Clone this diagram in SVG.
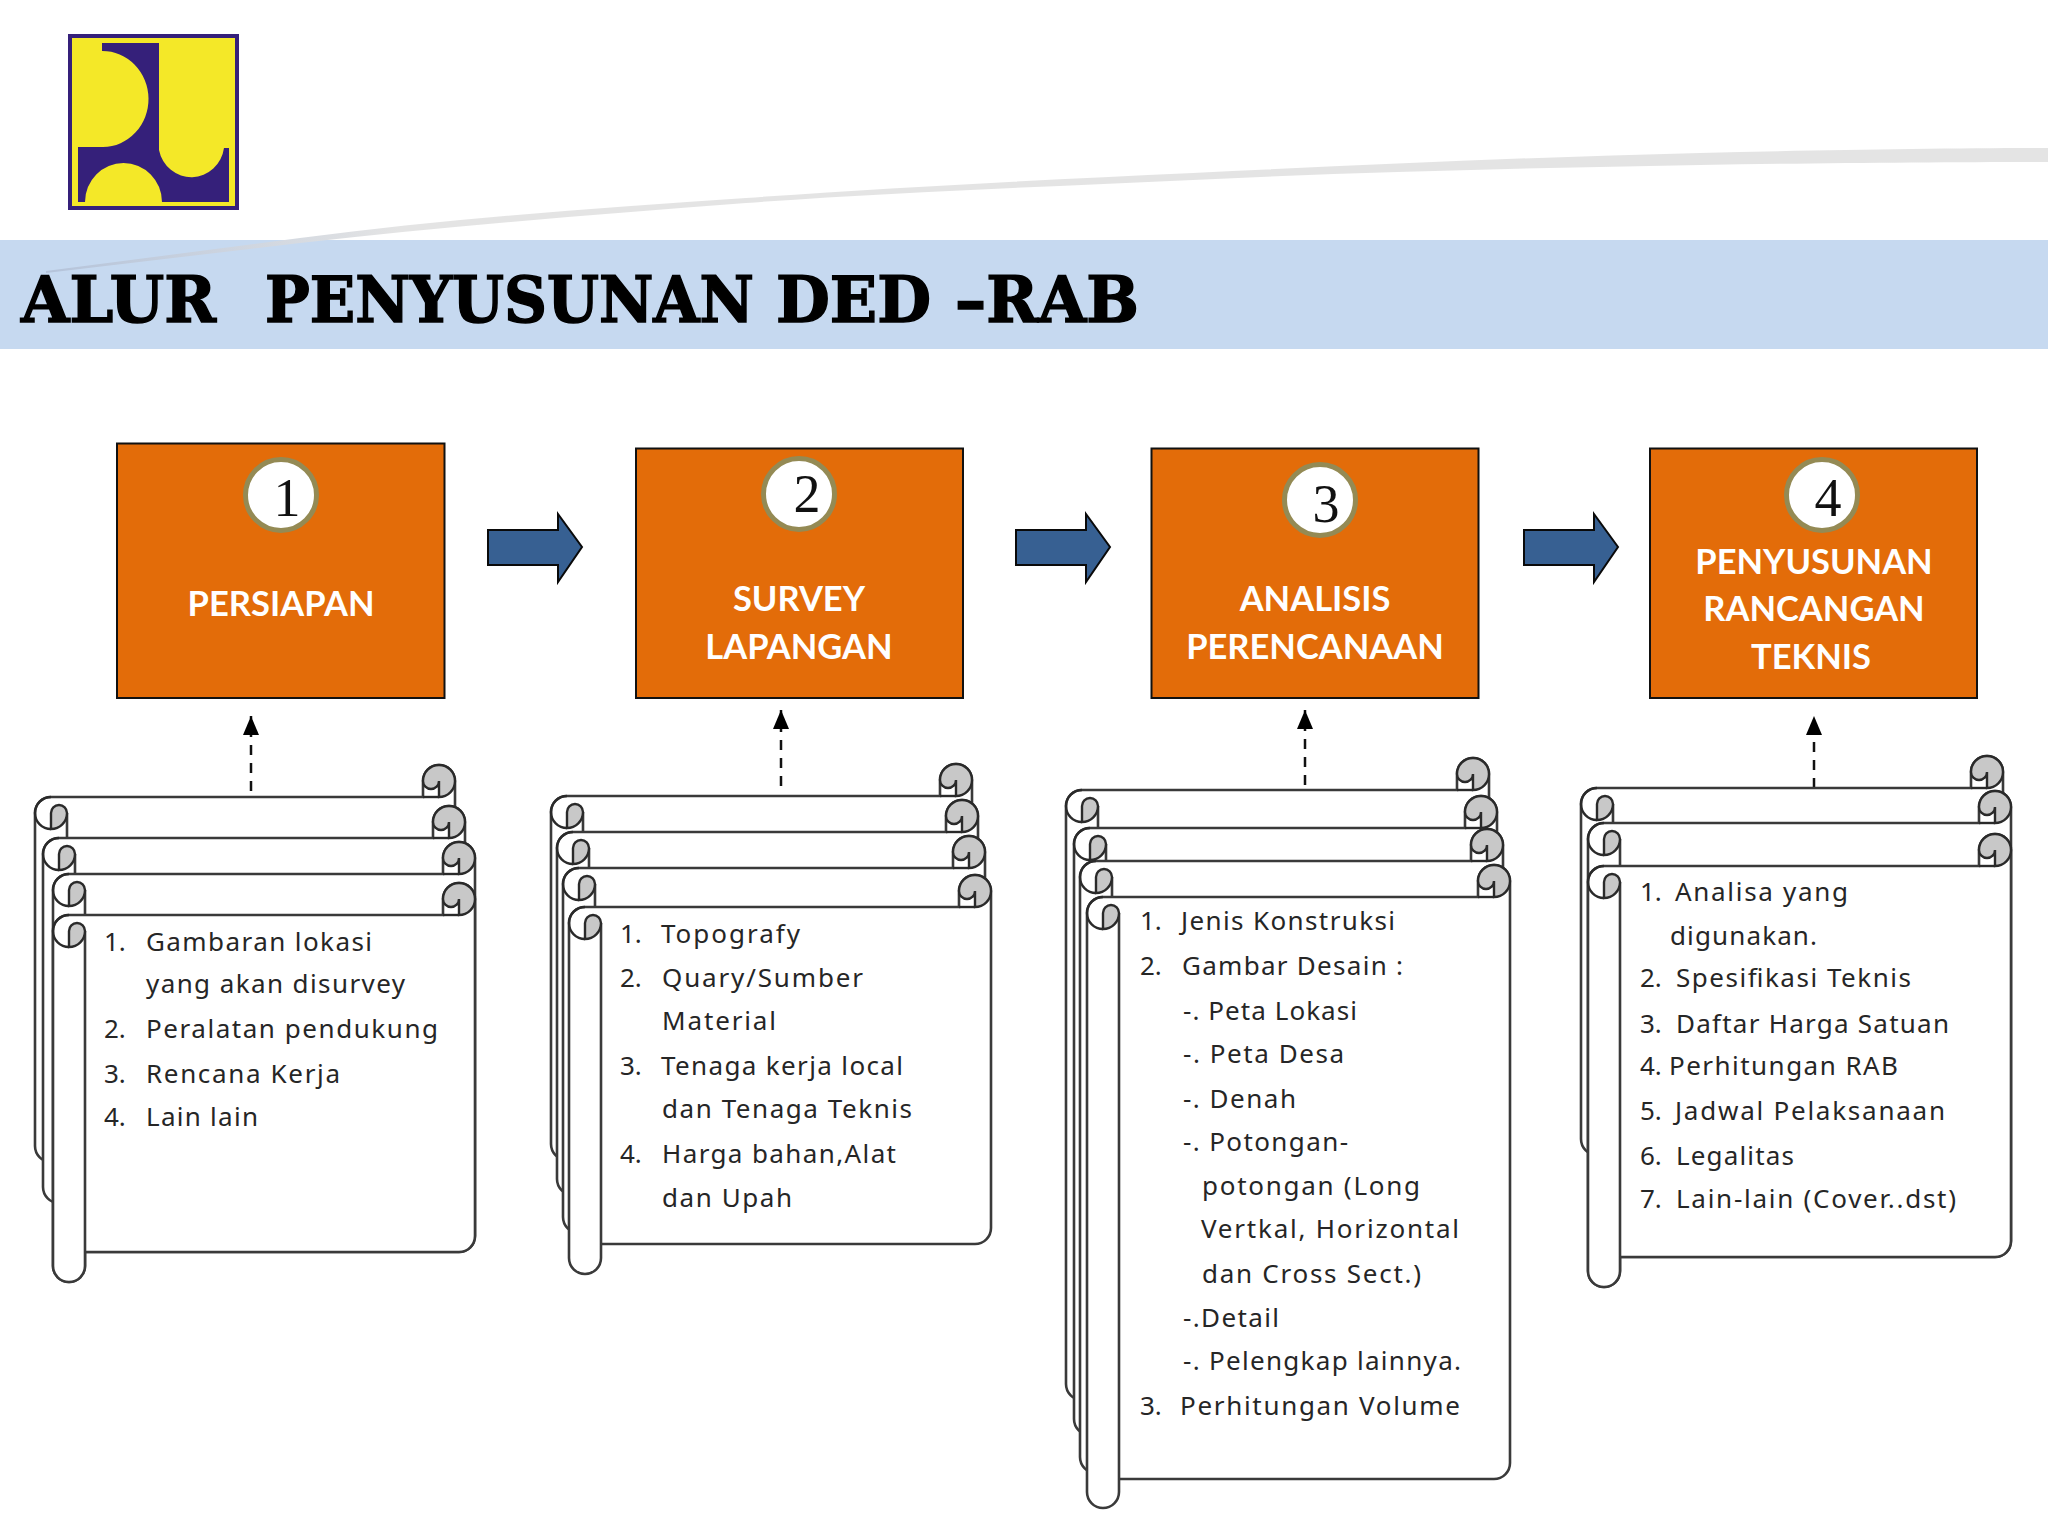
<svg xmlns="http://www.w3.org/2000/svg" width="2048" height="1536" viewBox="0 0 2048 1536">
<style>
.box{fill:#e36c09;stroke:#111;stroke-width:2}
.ring{fill:#fff;stroke:#948a54;stroke-width:5}
.num{font-family:"Liberation Serif",serif;font-size:54px;fill:#111;text-anchor:middle}
.lab{font-family:Lato,"Liberation Sans",sans-serif;font-weight:700;font-size:34.5px;fill:#fff;text-anchor:middle}
.arrow{fill:#376092;stroke:#0a0a0a;stroke-width:2;stroke-linejoin:miter}
.dash{fill:none;stroke:#111;stroke-width:2.5;stroke-dasharray:10 8}
.body{fill:#fff;stroke:#3a3a3a;stroke-width:2.6}
.roll{fill:#c8c8c8;stroke:#2a2a2a;stroke-width:2.4}
.line{fill:none;stroke:#2a2a2a;stroke-width:2.4}
.t{font-family:"Noto Sans","Liberation Sans",sans-serif;font-size:26px;fill:#262626}
.title{font-family:"DejaVu Serif","Liberation Serif",serif;font-weight:700;font-size:64px;fill:#000;stroke:#000;stroke-width:1.5;white-space:pre}
</style>
<defs>
<linearGradient id="sw" gradientUnits="userSpaceOnUse" x1="46" y1="0" x2="400" y2="0"><stop offset="0" stop-color="#b4c3da"/><stop offset="1" stop-color="#e4e4e4"/></linearGradient>
<marker id="ah" markerUnits="userSpaceOnUse" markerWidth="20" markerHeight="18" refX="19" refY="9" orient="auto"><path d="M0,1 L19,9 L0,17Z" fill="#000"/></marker>
<g id="rr"><path class="roll" d="M-32,-16 A16 16 0 0 1 0,-16 A16 16 0 0 1 -16,0 V-16 A8 8 0 0 1 -32,-16Z"/><path class="line" d="M-32,0 H-16"/></g>
<g id="lr"><path class="roll" d="M16,32 V16 A8 8 0 0 1 32,16 A16 16 0 0 1 16,32Z"/><path class="line" d="M16,0 A16 16 0 0 0 16,32"/></g>
</defs>
<rect width="2048" height="1536" fill="#fff"/>
<rect x="0" y="240" width="2048" height="109" fill="#c6d9f0"/>
<path d="M46,271 L300,238 C450,218 600,208 746,198 C900,187 1040,180 1193,173 C1360,165 1530,157 1700,153 C1820,150 1950,148 2048,148 V162 C1950,162 1820,163 1700,165 C1530,168 1360,172 1193,180 C1040,187 900,192 746,203 C600,214 450,226 300,243 L46,273Z" fill="url(#sw)"/>
<g id="logo">
<rect x="70" y="36" width="167" height="172" fill="#f4e828" stroke="#35207a" stroke-width="4"/>
<path d="M102,43 H159 V150 A33 34 0 0 0 224,148 H229 V202 H162 A38.5 39 0 0 0 85,202 H78 V147 H103 A46 48 0 0 0 102,51Z" fill="#35207a"/>
</g>
<text id="title" class="title" y="322"><tspan x="21" textLength="195" lengthAdjust="spacingAndGlyphs">ALUR</tspan>  <tspan x="265" textLength="489" lengthAdjust="spacingAndGlyphs">PENYUSUNAN</tspan> <tspan x="776" textLength="155" lengthAdjust="spacingAndGlyphs">DED</tspan> <tspan x="955" textLength="184" lengthAdjust="spacingAndGlyphs">–RAB</tspan></text>

<g id="connectors">
<path class="arrow" d="M488,530 H558 V514 L582,547 L558,582 V565 H488Z"/>
<path class="arrow" d="M1016,530 H1086 V514 L1110,547 L1086,582 V565 H1016Z"/>
<path class="arrow" d="M1524,530 H1594 V514 L1618,547 L1594,582 V565 H1524Z"/>
<path class="dash" d="M251,791 V716" marker-end="url(#ah)"/>
<path class="dash" d="M781,786 V710" marker-end="url(#ah)"/>
<path class="dash" d="M1305,785 V710" marker-end="url(#ah)"/>
<path class="dash" d="M1814,788 V716" marker-end="url(#ah)"/>
</g>

<g id="box-1"><rect class="box" x="117" y="443.5" width="327.5" height="254.5"/><circle class="ring" cx="281" cy="495" r="35.5"/><text class="num" x="287" y="516">1</text><text class="lab" x="281" y="616" textLength="187">PERSIAPAN</text></g>
<g id="box-2"><rect class="box" x="636" y="448.5" width="327" height="249.5"/><circle class="ring" cx="799" cy="494" r="35.5"/><text class="num" x="807" y="512">2</text><text class="lab" x="799" y="611">SURVEY</text><text class="lab" x="799" y="659">LAPANGAN</text></g>
<g id="box-3"><rect class="box" x="1151.5" y="448.5" width="327" height="249.5"/><circle class="ring" cx="1320" cy="500" r="35.5"/><text class="num" x="1326" y="522">3</text><text class="lab" x="1315" y="611">ANALISIS</text><text class="lab" x="1315" y="659">PERENCANAAN</text></g>
<g id="box-4"><rect class="box" x="1650" y="448.5" width="327" height="249.5"/><circle class="ring" cx="1822" cy="495" r="35.5"/><text class="num" x="1828" y="516">4</text><text class="lab" x="1814" y="574">PENYUSUNAN</text><text class="lab" x="1814" y="621">RANCANGAN</text><text class="lab" x="1811" y="669">TEKNIS</text></g>

<g id="stack-1">
<path class="body" d="M35,813 a16 16 0 0 1 16,-16 H423 v-16 a16 16 0 0 1 32,0 V1116 a16 16 0 0 1 -16,16 H67 V1146 a16 16 0 0 1 -32,0 Z M67,813 V1146"/><use href="#rr" x="455" y="797"/><use href="#lr" x="35" y="797"/>
<path class="body" d="M43,854 a16 16 0 0 1 16,-16 H433 v-16 a16 16 0 0 1 32,0 V1157 a16 16 0 0 1 -16,16 H75 V1187 a16 16 0 0 1 -32,0 Z M75,854 V1187"/><use href="#rr" x="465" y="838"/><use href="#lr" x="43" y="838"/>
<path class="body" d="M53,890 a16 16 0 0 1 16,-16 H443 v-16 a16 16 0 0 1 32,0 V1236 a16 16 0 0 1 -16,16 H85 V1266 a16 16 0 0 1 -32,0 Z M85,890 V1266"/><use href="#rr" x="475" y="874"/><use href="#lr" x="53" y="874"/>
<path class="body" d="M53,931 a16 16 0 0 1 16,-16 H443 v-16 a16 16 0 0 1 32,0 V1236 a16 16 0 0 1 -16,16 H85 V1266 a16 16 0 0 1 -32,0 Z M85,931 V1266"/><use href="#rr" x="475" y="915"/><use href="#lr" x="53" y="915"/>
<text class="t" x="104" y="951">1.</text><text class="t" x="146" y="951" textLength="226">Gambaran lokasi</text>
<text class="t" x="146" y="993" textLength="259">yang akan disurvey</text>
<text class="t" x="104" y="1038">2.</text><text class="t" x="146" y="1038" textLength="292">Peralatan pendukung</text>
<text class="t" x="104" y="1083">3.</text><text class="t" x="146" y="1083" textLength="194">Rencana Kerja</text>
<text class="t" x="104" y="1126">4.</text><text class="t" x="146" y="1126" textLength="112">Lain lain</text>
</g>

<g id="stack-2">
<path class="body" d="M551,812 a16 16 0 0 1 16,-16 H940 v-16 a16 16 0 0 1 32,0 V1114 a16 16 0 0 1 -16,16 H583 V1144 a16 16 0 0 1 -32,0 Z M583,812 V1144"/><use href="#rr" x="972" y="796"/><use href="#lr" x="551" y="796"/>
<path class="body" d="M557,848 a16 16 0 0 1 16,-16 H946 v-16 a16 16 0 0 1 32,0 V1149 a16 16 0 0 1 -16,16 H589 V1179 a16 16 0 0 1 -32,0 Z M589,848 V1179"/><use href="#rr" x="978" y="832"/><use href="#lr" x="557" y="832"/>
<path class="body" d="M563,884 a16 16 0 0 1 16,-16 H953 v-16 a16 16 0 0 1 32,0 V1187 a16 16 0 0 1 -16,16 H595 V1217 a16 16 0 0 1 -32,0 Z M595,884 V1217"/><use href="#rr" x="985" y="868"/><use href="#lr" x="563" y="868"/>
<path class="body" d="M569,923 a16 16 0 0 1 16,-16 H959 v-16 a16 16 0 0 1 32,0 V1228 a16 16 0 0 1 -16,16 H601 V1258 a16 16 0 0 1 -32,0 Z M601,923 V1258"/><use href="#rr" x="991" y="907"/><use href="#lr" x="569" y="907"/>
<text class="t" x="620" y="943">1.</text><text class="t" x="661" y="943" textLength="139">Topografy</text>
<text class="t" x="620" y="987">2.</text><text class="t" x="662" y="987" textLength="201">Quary/Sumber</text>
<text class="t" x="662" y="1030" textLength="114">Material</text>
<text class="t" x="620" y="1075">3.</text><text class="t" x="661" y="1075" textLength="242">Tenaga kerja local</text>
<text class="t" x="662" y="1118" textLength="250">dan Tenaga Teknis</text>
<text class="t" x="620" y="1163">4.</text><text class="t" x="662" y="1163" textLength="234">Harga bahan,Alat</text>
<text class="t" x="662" y="1207" textLength="130">dan Upah</text>
</g>

<g id="stack-3">
<path class="body" d="M1066,806 a16 16 0 0 1 16,-16 H1457 v-16 a16 16 0 0 1 32,0 V1354 a16 16 0 0 1 -16,16 H1098 V1384 a16 16 0 0 1 -32,0 Z M1098,806 V1384"/><use href="#rr" x="1489" y="790"/><use href="#lr" x="1066" y="790"/>
<path class="body" d="M1074,844 a16 16 0 0 1 16,-16 H1465 v-16 a16 16 0 0 1 32,0 V1389 a16 16 0 0 1 -16,16 H1106 V1419 a16 16 0 0 1 -32,0 Z M1106,844 V1419"/><use href="#rr" x="1497" y="828"/><use href="#lr" x="1074" y="828"/>
<path class="body" d="M1080,877 a16 16 0 0 1 16,-16 H1471 v-16 a16 16 0 0 1 32,0 V1427 a16 16 0 0 1 -16,16 H1112 V1457 a16 16 0 0 1 -32,0 Z M1112,877 V1457"/><use href="#rr" x="1503" y="861"/><use href="#lr" x="1080" y="861"/>
<path class="body" d="M1087,913 a16 16 0 0 1 16,-16 H1478 v-16 a16 16 0 0 1 32,0 V1463 a16 16 0 0 1 -16,16 H1119 V1492 a16 16 0 0 1 -32,0 Z M1119,913 V1492"/><use href="#rr" x="1510" y="897"/><use href="#lr" x="1087" y="897"/>
<text class="t" x="1140" y="930">1.</text><text class="t" x="1181" y="930" textLength="214">Jenis Konstruksi</text>
<text class="t" x="1140" y="975">2.</text><text class="t" x="1182" y="975" textLength="221">Gambar Desain :</text>
<text class="t" x="1183" y="1020" textLength="174">-. Peta Lokasi</text>
<text class="t" x="1183" y="1063" textLength="161">-. Peta Desa</text>
<text class="t" x="1183" y="1108" textLength="113">-. Denah</text>
<text class="t" x="1183" y="1151" textLength="165">-. Potongan-</text>
<text class="t" x="1202" y="1195" textLength="218">potongan (Long</text>
<text class="t" x="1201" y="1238" textLength="258">Vertkal, Horizontal</text>
<text class="t" x="1202" y="1283" textLength="219">dan Cross Sect.)</text>
<text class="t" x="1183" y="1327" textLength="96">-.Detail</text>
<text class="t" x="1183" y="1370" textLength="278">-. Pelengkap lainnya.</text>
<text class="t" x="1140" y="1415">3.</text><text class="t" x="1180" y="1415" textLength="280">Perhitungan Volume</text>
</g>

<g id="stack-4">
<path class="body" d="M1581,804 a16 16 0 0 1 16,-16 H1971 v-16 a16 16 0 0 1 32,0 V1109 a16 16 0 0 1 -16,16 H1613 V1139 a16 16 0 0 1 -32,0 Z M1613,804 V1139"/><use href="#rr" x="2003" y="788"/><use href="#lr" x="1581" y="788"/>
<path class="body" d="M1588,839 a16 16 0 0 1 16,-16 H1979 v-16 a16 16 0 0 1 32,0 V1241 a16 16 0 0 1 -16,16 H1620 V1271 a16 16 0 0 1 -32,0 Z M1620,839 V1271"/><use href="#rr" x="2011" y="823"/><use href="#lr" x="1588" y="823"/>
<path class="body" d="M1588,882 a16 16 0 0 1 16,-16 H1979 v-16 a16 16 0 0 1 32,0 V1241 a16 16 0 0 1 -16,16 H1620 V1271 a16 16 0 0 1 -32,0 Z M1620,882 V1271"/><use href="#rr" x="2011" y="866"/><use href="#lr" x="1588" y="866"/>
<text class="t" x="1640" y="901">1.</text><text class="t" x="1675" y="901" textLength="173">Analisa yang</text>
<text class="t" x="1670" y="945" textLength="147">digunakan.</text>
<text class="t" x="1640" y="987">2.</text><text class="t" x="1676" y="987" textLength="235">Spesifikasi Teknis</text>
<text class="t" x="1640" y="1033">3.</text><text class="t" x="1676" y="1033" textLength="273">Daftar Harga Satuan</text>
<text class="t" x="1640" y="1075">4.</text><text class="t" x="1669" y="1075" textLength="229">Perhitungan RAB</text>
<text class="t" x="1640" y="1120">5.</text><text class="t" x="1675" y="1120" textLength="270">Jadwal Pelaksanaan</text>
<text class="t" x="1640" y="1165">6.</text><text class="t" x="1676" y="1165" textLength="118">Legalitas</text>
<text class="t" x="1640" y="1208">7.</text><text class="t" x="1676" y="1208" textLength="280">Lain-lain (Cover..dst)</text>
</g>
</svg>
